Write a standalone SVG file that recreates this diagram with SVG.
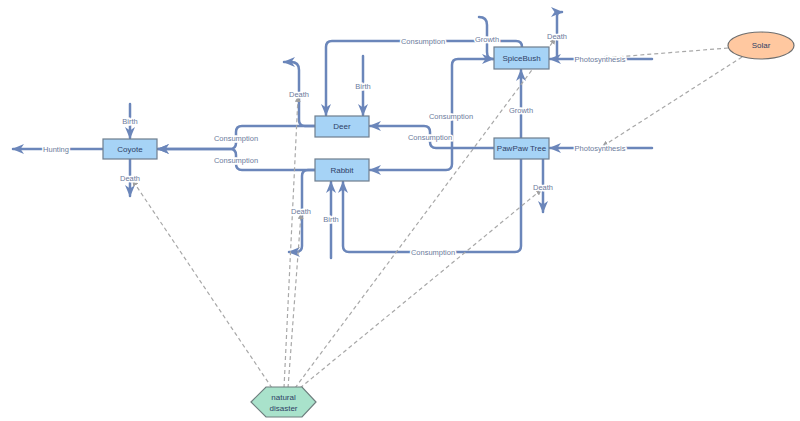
<svg xmlns="http://www.w3.org/2000/svg" width="800" height="421" viewBox="0 0 800 421">
<style>
.flow{fill:none;stroke:#6B86BA;stroke-width:2.5;stroke-linecap:round;stroke-linejoin:round}
.info{fill:none;stroke:#A8A8A8;stroke-width:1.2;stroke-dasharray:4 3}
.lbl{font-family:"Liberation Sans",Arial,sans-serif;font-size:7.5px;fill:#6C7B9C;text-anchor:middle;dominant-baseline:central;stroke:#fff;stroke-width:3;paint-order:stroke}
.box{fill:#A6D3F6;stroke:#6E7E8E;stroke-width:1.2}
.ntx{font-family:"Liberation Sans",Arial,sans-serif;font-size:8px;fill:#2F3F66;text-anchor:middle;dominant-baseline:central}
</style>
<defs>
<marker id="ah" markerUnits="userSpaceOnUse" markerWidth="12" markerHeight="12" viewBox="0 0 12 12" refX="11" refY="6" orient="auto">
<path d="M0,1 L12,6 L0,11 L3.5,6 z" fill="#6B86BA"/>
</marker>
<marker id="ai" markerUnits="userSpaceOnUse" markerWidth="6" markerHeight="6" viewBox="0 0 6 6" refX="5" refY="3" orient="auto">
<path d="M0,0 L6,3 L0,6 z" fill="#A0A0A0"/>
</marker>
</defs>
<rect width="800" height="421" fill="#fff"/>
<g id="connectors">
<path class="flow" d="M103,149 H13" marker-end="url(#ah)"/>
<path class="flow" d="M130,104 V138" marker-end="url(#ah)"/>
<path class="flow" d="M130,159 V196" marker-end="url(#ah)"/>
<path class="flow" d="M315,126 H242 Q236,126 236,132 V143 Q236,149 230,149 H158" marker-end="url(#ah)"/>
<path class="flow" d="M315,170 H242 Q236,170 236,164 V155 Q236,149 230,149 H158" marker-end="url(#ah)"/>
<path class="flow" d="M315,126 H305 Q299,126 299,120 V70 Q299,62 291,62 H284" marker-end="url(#ah)"/>
<path class="flow" d="M363,56 V115" marker-end="url(#ah)"/>
<path class="flow" d="M522,47 Q522,41 516,41 H332 Q326,41 326,47 V115" marker-end="url(#ah)"/>
<path class="flow" d="M479,17 Q487,17 487,25 V52 Q487,59 493,59" marker-end="url(#ah)"/>
<path class="flow" d="M494,59 H458 Q452,59 452,65 V164 Q452,170 446,170 H370" marker-end="url(#ah)"/>
<path class="flow" d="M557,59 V16 Q557,12 562,12" marker-end="url(#ah)"/>
<path class="flow" d="M652,59 H550" marker-end="url(#ah)"/>
<path class="flow" d="M521,138 V70" marker-end="url(#ah)"/>
<path class="flow" d="M652,148 H550" marker-end="url(#ah)"/>
<path class="flow" d="M543,159 V212" marker-end="url(#ah)"/>
<path class="flow" d="M494,148 H436 Q430,148 430,142 V132 Q430,126 424,126 H370" marker-end="url(#ah)"/>
<path class="flow" d="M521,159 V246 Q521,252 515,252 H349 Q343,252 343,246 V182" marker-end="url(#ah)"/>
<path class="flow" d="M331,258 V182" marker-end="url(#ah)"/>
<path class="flow" d="M315,170 H308 Q302,170 302,176 V246 Q302,252 296,252 H289" marker-end="url(#ah)"/>
<path class="info" d="M272,388 L133,181" marker-end="url(#ai)"/>
<path class="info" d="M284,388 L298,97" marker-end="url(#ai)"/>
<path class="info" d="M288,388 L301,214" marker-end="url(#ai)"/>
<path class="info" d="M295,388 L555,39" marker-end="url(#ai)"/>
<path class="info" d="M300,388 L541,190" marker-end="url(#ai)"/>
<path class="info" d="M728,48 L603,58" marker-end="url(#ai)"/>
<path class="info" d="M742,57 L603,146" marker-end="url(#ai)"/>
<text class="lbl" x="56" y="149">Hunting</text>
<text class="lbl" x="130" y="121">Birth</text>
<text class="lbl" x="130" y="178">Death</text>
<text class="lbl" x="236" y="138">Consumption</text>
<text class="lbl" x="236" y="160">Consumption</text>
<text class="lbl" x="299" y="94">Death</text>
<text class="lbl" x="363" y="86">Birth</text>
<text class="lbl" x="423" y="41">Consumption</text>
<text class="lbl" x="487" y="39">Growth</text>
<text class="lbl" x="451" y="116">Consumption</text>
<text class="lbl" x="557" y="36">Death</text>
<text class="lbl" x="600" y="59">Photosynthesis</text>
<text class="lbl" x="521" y="110">Growth</text>
<text class="lbl" x="600" y="148">Photosynthesis</text>
<text class="lbl" x="543" y="187">Death</text>
<text class="lbl" x="430" y="137">Consumption</text>
<text class="lbl" x="433" y="252">Consumption</text>
<text class="lbl" x="331" y="219">Birth</text>
<text class="lbl" x="301" y="211">Death</text>
</g>
<g id="coyote"><rect class="box" x="103" y="139" width="54" height="20"/><text class="ntx" x="130" y="149">Coyote</text></g>
<g id="deer"><rect class="box" x="315" y="116" width="54" height="21"/><text class="ntx" x="342" y="126.5">Deer</text></g>
<g id="rabbit"><rect class="box" x="315" y="159" width="54" height="22"/><text class="ntx" x="342" y="170">Rabbit</text></g>
<g id="spicebush"><rect class="box" x="494" y="47" width="55" height="22"/><text class="ntx" x="521.5" y="58">SpiceBush</text></g>
<g id="pawpaw"><rect class="box" x="494" y="138" width="55" height="21"/><text class="ntx" x="521.5" y="148.5">PawPaw Tree</text></g>
<g id="solar"><ellipse cx="761" cy="45.5" rx="33" ry="13.5" fill="#FFC8A0" stroke="#6E6E6E" stroke-width="1.2"/><text class="ntx" x="761" y="45.5">Solar</text></g>
<g id="natural-disaster"><polygon points="251,402 266,387 302,387 316,402 302,417 266,417" fill="#A9E2CB" stroke="#6E7E7E" stroke-width="1.2"/><text class="ntx" x="283.5" y="397">natural</text><text class="ntx" x="283.5" y="408">disaster</text></g>
</svg>
